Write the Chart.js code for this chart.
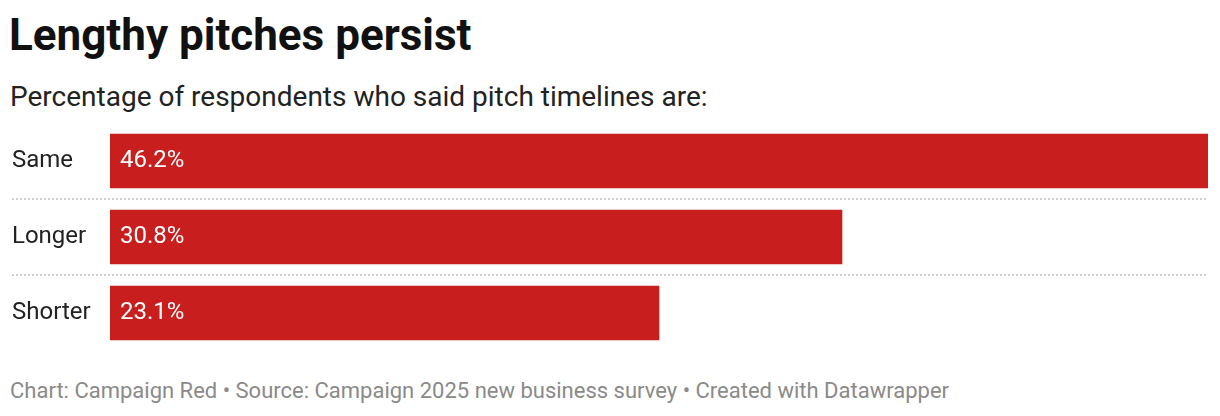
<!DOCTYPE html>
<html>
<head>
<meta charset="utf-8"/>
<style>
  html,body{margin:0;padding:0;background:#fff;font-family:Roboto,"Noto Sans",sans-serif;}
  #wrap{position:relative;width:1220px;height:416px;overflow:hidden;}
  #title{position:absolute;left:9px;top:13px;font-size:44px;line-height:1;font-weight:700;color:#111;white-space:nowrap;}
  #sub{position:absolute;left:10px;top:83px;font-size:28px;line-height:1;color:#222;white-space:nowrap;}
  #box{position:absolute;left:0;top:123px;width:1220px;height:228px;}
  #foot{position:absolute;left:10px;top:380px;font-size:22px;line-height:1;color:#8a8a8a;white-space:nowrap;}
</style>
</head>
<body>
<div id="wrap">
  <div id="title">Lengthy pitches persist</div>
  <div id="sub">Percentage of respondents who said pitch timelines are:</div>
  <div id="box"><canvas id="c"></canvas></div>
  <div id="foot">Chart: Campaign Red • Source: Campaign 2025 new business survey • Created with Datawrapper</div>
</div>
<script src="https://cdn.jsdelivr.net/npm/chart.js@4.4.0/dist/chart.umd.min.js"></script>
<script>
  const categories = ["Same", "Longer", "Shorter"];
  const values     = [46.2, 30.8, 23.1];
  const valueLabels = ["46.2%", "30.8%", "23.1%"];

  // row labels, dotted separators between rows, value labels inside bars
  const rowDeco = {
    id: "rowDeco",
    afterDatasetsDraw(chart) {
      const { ctx } = chart;
      const y = chart.scales.y;
      ctx.save();
      ctx.strokeStyle = "#cfcfcf";
      ctx.lineWidth = 2;
      ctx.setLineDash([2, 2]);
      for (let i = 0; i < categories.length - 1; i++) {
        const py = Math.round((y.getPixelForValue(i) + y.getPixelForValue(i + 1)) / 2);
        ctx.beginPath();
        ctx.moveTo(12, py);
        ctx.lineTo(chart.chartArea.right, py);
        ctx.stroke();
      }
      ctx.setLineDash([]);
      ctx.font = "24px Roboto";
      ctx.textBaseline = "middle";
      chart.getDatasetMeta(0).data.forEach((bar, i) => {
        ctx.fillStyle = "#222";
        ctx.fillText(categories[i], 12, bar.y);
        ctx.fillStyle = "#fff";
        ctx.fillText(valueLabels[i], chart.chartArea.left + 10, bar.y);
      });
      ctx.restore();
    }
  };

  new Chart(document.getElementById("c"), {
    type: "bar",
    data: {
      labels: categories,
      datasets: [{ data: values, backgroundColor: "#c81e1e", barThickness: 54, borderWidth: 0 }]
    },
    options: {
      indexAxis: "y",
      responsive: true, maintainAspectRatio: false, animation: false,
      layout: { padding: { left: 110, right: 12, top: 0, bottom: 0 } },
      plugins: { legend: { display: false }, tooltip: { enabled: false } },
      scales: {
        x: { display: false, min: 0, max: 46.2 },
        y: { display: false }
      }
    },
    plugins: [rowDeco]
  });
</script>
</body>
</html>
